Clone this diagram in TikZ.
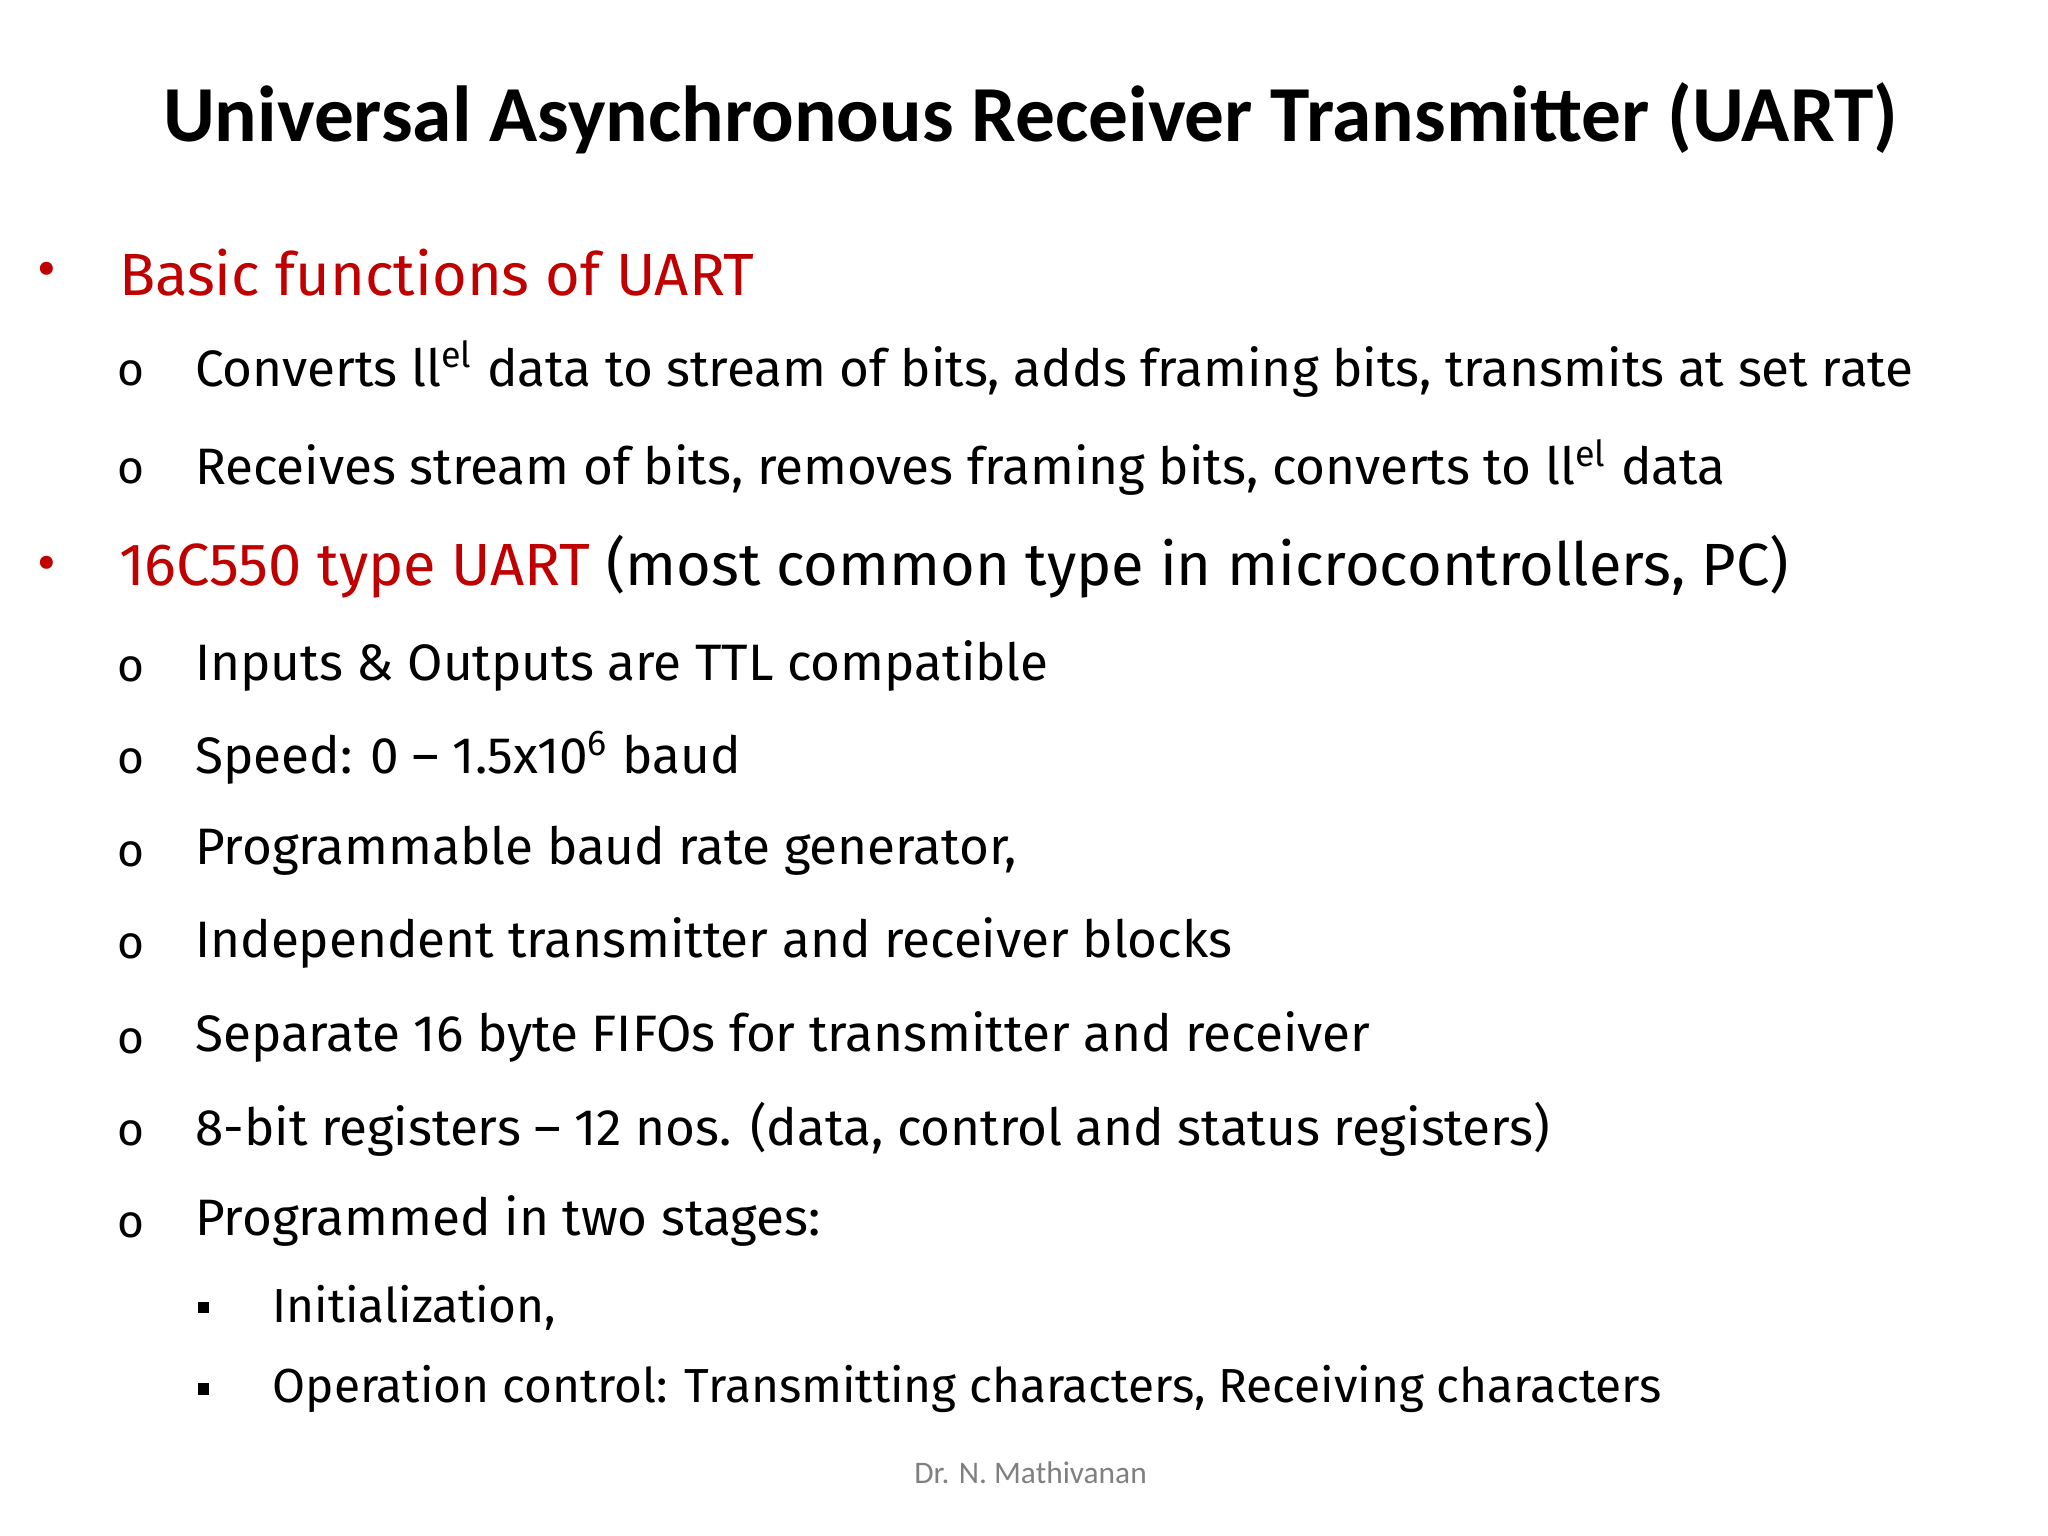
\documentclass[tikz,border=0pt]{standalone}
\usepackage{fontspec}
\setmainfont{Fira Sans}
\newfontfamily\titlefont{Carlito}
\definecolor{slred}{RGB}{192,0,0}
\begin{document}
\begin{tikzpicture}[x=0.01cm,y=-0.01cm,
  lone/.style={anchor=west,inner sep=0pt,font=\fontsize{12.9}{14}\selectfont},
  ltwo/.style={anchor=west,inner sep=0pt,font=\fontsize{11.1}{13}\selectfont},
  mark1/.style={anchor=center,inner sep=0pt,font=\fontsize{12.5}{14}\selectfont,text=slred},
  mark2/.style={anchor=center,inner sep=0pt,font=\fontsize{10}{12}\selectfont}]
\useasboundingbox[fill=white] (0,0) rectangle (1560,1170);
\node[inner sep=0pt,font=\titlefont\bfseries\fontsize{17.2}{20}\selectfont] (title) at (785,90) {Universal Asynchronous Receiver Transmitter (UART)};
\node[mark1] (b1) at (36,210) {•};
\node[lone,text=slred] (t1) at (90,208) {Basic functions of UART};
\node[mark2] (o1) at (100,284) {o};
\node[ltwo] (t11) at (148,281) {Converts ll\textsuperscript{el} data to stream of bits, adds framing bits, transmits at set rate};
\node[mark2] (o2) at (100,359) {o};
\node[ltwo] (t12) at (148,356) {Receives stream of bits, removes framing bits, converts to ll\textsuperscript{el} data};
\node[mark1] (b2) at (36,434) {•};
\node[lone] (t2) at (90,432) {\textcolor{slred}{16C550 type UART} (most common type in microcontrollers, PC)};
\node[mark2] (o3) at (100,510) {o};
\node[ltwo] (t21) at (148,507) {Inputs \& Outputs are TTL compatible};
\node[mark2] (o4) at (100,580) {o};
\node[ltwo] (t22) at (148,577) {Speed: 0 – 1.5x10\textsuperscript{6} baud};
\node[mark2] (o5) at (100,651) {o};
\node[ltwo] (t23) at (148,648) {Programmable baud rate generator,};
\node[mark2] (o6) at (100,721) {o};
\node[ltwo] (t24) at (148,718) {Independent transmitter and receiver blocks};
\node[mark2] (o7) at (100,793) {o};
\node[ltwo] (t25) at (148,790) {Separate 16 byte FIFOs for transmitter and receiver};
\node[mark2] (o8) at (100,863) {o};
\node[ltwo] (t26) at (148,860) {8-bit registers – 12 nos. (data, control and status registers)};
\node[mark2] (o9) at (100,933) {o};
\node[ltwo] (t27) at (148,930) {Programmed in two stages:};
\node[fill=black,minimum size=0.09cm,inner sep=0pt] (s1) at (155,996) {};
\node[ltwo,font=\fontsize{10.35}{12}\selectfont] (t31) at (207,996) {Initialization,};
\node[fill=black,minimum size=0.09cm,inner sep=0pt] (s2) at (155,1058) {};
\node[ltwo,font=\fontsize{10.35}{12}\selectfont] (t32) at (207,1058) {Operation control: Transmitting characters, Receiving characters};
\node[inner sep=0pt,text=gray,font=\titlefont\fontsize{6.8}{8}\selectfont] (foot) at (785,1122) {Dr. N. Mathivanan};
\end{tikzpicture}
\end{document}
